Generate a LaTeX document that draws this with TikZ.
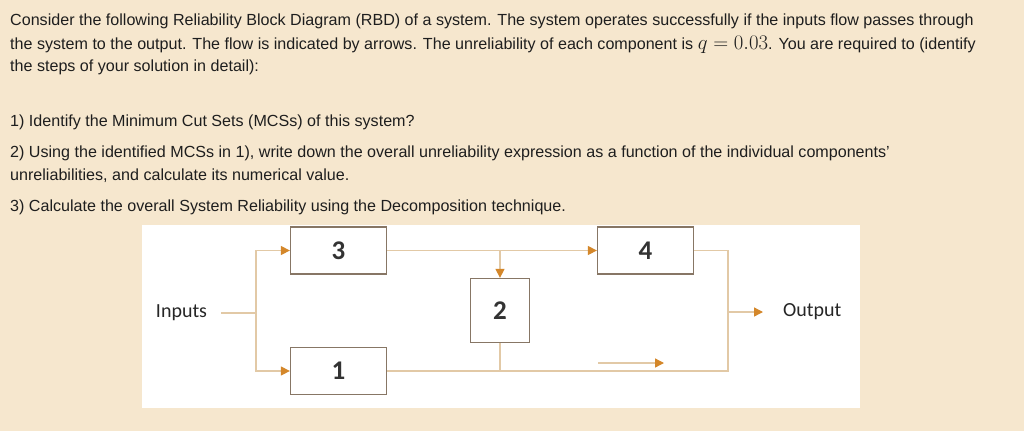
\documentclass[tikz,border=0pt]{standalone}
\usepackage{fontspec}
\setmainfont{Liberation Sans}
\newfontfamily\calib{Carlito}
\usetikzlibrary{arrows.meta}
\definecolor{bgc}{HTML}{F6E7CE}
\definecolor{lnc}{HTML}{E2C9A6}
\definecolor{arc}{HTML}{D4872A}
\definecolor{boxc}{HTML}{877665}
\definecolor{txc}{HTML}{1E1E1E}
\tikzset{
  para/.style={anchor=base west, inner sep=0pt, text=txc, font=\fontsize{16.1}{19}\selectfont},
  blk/.style={draw=boxc, line width=1.3pt, fill=white, minimum width=96pt, minimum height=47pt, inner sep=0pt, text=black!80, font=\calib\bfseries\fontsize{27}{30}\selectfont},
  lbl/.style={inner sep=0pt, text=black!85, font=\calib\fontsize{20}{22}\selectfont},
  ln/.style={draw=lnc, line width=1.3pt},
  arr/.style={ln, -{Triangle[length=9pt,width=9pt,color=arc]}}
}
\newcommand{\qmath}{{\fontsize{19.5}{20}\selectfont$q=0.03$}}
\begin{document}
\begin{tikzpicture}[x=1pt,y=-1pt]
\fill[bgc] (0,0) rectangle (1024,431);
\useasboundingbox (0,0) rectangle (1024,431);
\node[para] (t1) at (10,25) {Consider the following Reliability Block Diagram (RBD) of a system. The system operates successfully if the inputs flow passes through};
\node[para] (t2) at (10,49) {the system to the output. The flow is indicated by arrows. The unreliability of each component is \qmath. You are required to (identify};
\node[para] (t3) at (10,71) {the steps of your solution in detail):};
\node[para] (q1) at (10,126) {1) Identify the Minimum Cut Sets (MCSs) of this system?};
\node[para] (q2) at (10,157) {2) Using the identified MCSs in 1), write down the overall unreliability expression as a function of the individual components'};
\node[para] (q2b) at (10,180) {unreliabilities, and calculate its numerical value.};
\node[para] (q3) at (10,211) {3) Calculate the overall System Reliability using the Decomposition technique.};
\fill[white] (142,225) rectangle (860,408);
\node[blk] (b3) at (338.5,250.5) {3};
\node[blk] (b1) at (338.5,371) {1};
\node[blk, minimum width=59pt, minimum height=64pt] (b2) at (500,310.5) {2};
\node[blk] (b4) at (645.5,250.5) {4};
\node[lbl] (inp) at (181.5,313) {Inputs};
\node[lbl, anchor=west] (out) at (783,312) {Output};
\coordinate (s) at (256,313);
\coordinate (t) at (b2.north |- b3.east);
\coordinate (r) at (728,250.5);
\coordinate (j) at (728,312);
\coordinate (f1) at (598,363);
\coordinate (f2) at (664,363);
\draw[ln] ([xshift=14pt]inp.east) -- (s);
\draw[arr] (s) |- (b3.west);
\draw[arr] (s) |- (b1.west);
\draw[arr] (b3.east) -- (b4.west);
\draw[arr] (t) -- (b2.north);
\draw[ln] (b2.south) -- (b2.south |- b1.east);
\draw[ln] (b1.east) -| (r) -- (b4.east);
\draw[arr] (j) -- ([xshift=-20pt]out.west);
\draw[arr] (f1) -- (f2);
\end{tikzpicture}
\end{document}
